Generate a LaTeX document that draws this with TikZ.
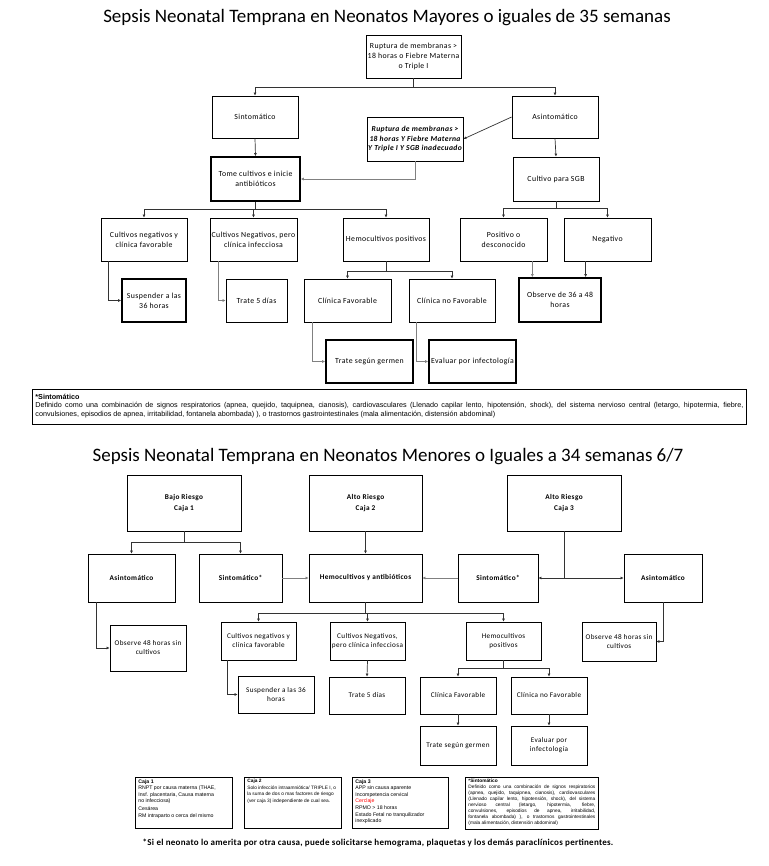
\documentclass[tikz,border=0pt]{standalone}
\usepackage{fontspec}
\setmainfont{Carlito}
\newfontfamily\boxf[LetterSpace=5]{Carlito}
\newfontfamily\fnf[LetterSpace=3]{Carlito}
\newfontfamily\arialf{Liberation Sans}
\usetikzlibrary{arrows.meta,calc}
\begin{document}
\begin{tikzpicture}[x=1pt,y=-1pt,
  box/.style={draw, line width=0.8pt, rectangle, inner sep=1pt, align=center, font=\boxf\fontsize{7.8}{9.7}\selectfont},
  thk/.style={line width=1.8pt},
  bbox/.style={box, font=\boxf\fontsize{7.2}{9}\selectfont},
  bboxb/.style={box, font=\boxf\bfseries\fontsize{7.3}{9}\selectfont},
  ln/.style={draw=black!80, line width=0.7pt, -{Latex[length=3pt,width=3pt]}},
  lng/.style={ln, draw=black!50},
  titlef/.style={inner sep=0pt, font=\fontsize{19}{23}\selectfont},
  notebox/.style={draw, line width=0.8pt, inner xsep=3pt, inner ysep=2pt, anchor=north west},
]
\fill[white] (0,0) rectangle (768,866);
\useasboundingbox (0,0) rectangle (768,866);

% ---------- Top section ----------
\node[titlef] (t1) at (387,18) {Sepsis Neonatal Temprana en Neonatos Mayores o iguales de 35 semanas};

\node[box, minimum width=95pt, minimum height=43pt] (top) at (413.5,56.5) {Ruptura de membranas >\\18 horas o Fiebre Materna\\o Triple I};
\node[box, minimum width=86pt, minimum height=42pt] (sint) at (255,117) {Sintomático};
\node[box, minimum width=86pt, minimum height=42pt] (asint) at (555,117) {Asintomático};
\node[box, minimum width=96pt, minimum height=44pt, font=\boxf\bfseries\itshape\fontsize{7.6}{9.5}\selectfont] (ital) at (415,139) {Ruptura de membranas >\\18 horas Y Fiebre Materna\\Y Triple I Y SGB inadecuado};
\node[box, thk, minimum width=89pt, minimum height=44pt] (tome) at (255.5,179) {Tome cultivos e inicie\\antibióticos};
\node[box, minimum width=86pt, minimum height=44pt] (sgb) at (556,179) {Cultivo para SGB};

\node[box, minimum width=86pt, minimum height=43pt] (cn1) at (144,239.5) {Cultivos negativos y\\clínica favorable};
\node[box, minimum width=87pt, minimum height=43pt] (cnp) at (253.5,239.5) {Cultivos Negativos, pero\\clínica infecciosa};
\node[box, minimum width=86pt, minimum height=43pt] (hemo) at (386,239.5) {Hemocultivos positivos};
\node[box, minimum width=87pt, minimum height=43pt] (pos) at (503.5,239.5) {Positivo o\\desconocido};
\node[box, minimum width=87pt, minimum height=43pt] (neg) at (607.5,239.5) {Negativo};

\node[box, thk, minimum width=64pt, minimum height=43pt] (susp) at (154,300.5) {Suspender a las\\36 horas};
\node[box, minimum width=61pt, minimum height=43pt] (t5) at (256.5,300.5) {Trate 5 días};
\node[box, minimum width=87pt, minimum height=43pt] (cf) at (347.5,300.5) {Clínica Favorable};
\node[box, minimum width=86pt, minimum height=43pt] (cnf) at (452,300.5) {Clínica no Favorable};
\node[box, thk, minimum width=82pt, minimum height=44pt] (obs) at (560,300) {Observe de 36 a 48\\horas};

\node[box, thk, minimum width=87pt, minimum height=43pt] (tsg) at (369.5,361.5) {Trate según germen};
\node[box, thk, minimum width=87pt, minimum height=43pt] (eval) at (472.5,361.5) {Evaluar por infectología};

\draw[ln] (top.south) -- ++(0,9) -| (sint.north);
\draw[ln] (top.south) -- ++(0,9) -| (asint.north);
\draw[ln] (asint.west) -- (ital.east);
\draw[ln] (sint.south) -- (tome.north);
\draw[lng] (ital.south) |- (tome.east);
\draw[ln] (asint.south) -- (sgb.north);
\draw[ln] (tome.south) -- ++(0,7) -| (cn1.north);
\draw[ln] (tome.south) -- ++(0,7) -| (cnp.north);
\draw[ln] (tome.south) -- ++(0,7) -| (hemo.north);
\draw[ln] (sgb.south) -- ++(0,7) -| (pos.north);
\draw[ln] (sgb.south) -- ++(0,7) -| (neg.north);
\coordinate (c1) at ($(cn1.south west)+(8,0)$);
\draw[ln] (c1) |- (susp.west);
\coordinate (c2) at ($(cnp.south west)+(9,0)$);
\draw[lng] (c2) |- (t5.west);
\draw[ln] (hemo.south) -- ++(0,10) -| (cf.north);
\draw[ln] (hemo.south) -- ++(0,10) -| (cnf.north);
\coordinate (c3) at ($(pos.south east)+(-15,0)$);
\draw[lng] (c3) -- (c3 |- obs.north);
\coordinate (c4) at ($(neg.south west)+(22,0)$);
\draw[ln] (c4) -- (c4 |- obs.north);
\coordinate (c5) at ($(cf.south west)+(9,0)$);
\draw[lng] (c5) |- (tsg.west);
\coordinate (c6) at ($(cnf.south west)+(8,0)$);
\draw[lng] (c6) |- (eval.west);

\node[notebox] (nb) at (32,389) {\parbox[c][31pt][t]{708pt}{\arialf\fontsize{7.2}{8.5}\selectfont
\vspace*{2.5pt}\textbf{*Sintomático}\\
Definido como una combinación de signos respiratorios (apnea, quejido, taquipnea, cianosis), cardiovasculares (Llenado capilar lento, hipotensión, shock), del sistema nervioso central (letargo, hipotermia, fiebre,\linebreak convulsiones, episodios de apnea, irritabilidad, fontanela abombada) ), o trastornos gastrointestinales (mala alimentación, distensión abdominal)}};

% ---------- Bottom section ----------
\node[titlef] (t2) at (388,457) {Sepsis Neonatal Temprana en Neonatos Menores o Iguales a 34 semanas 6/7};

\node[bboxb, minimum width=114pt, minimum height=56pt] (bajo) at (184,503) {Bajo Riesgo\\[2pt]Caja 1};
\node[bboxb, minimum width=113pt, minimum height=56pt] (alto2) at (365.5,503) {Alto Riesgo\\[2pt]Caja 2};
\node[bboxb, minimum width=114pt, minimum height=56pt] (alto3) at (564,503) {Alto Riesgo\\[2pt]Caja 3};

\node[bboxb, minimum width=87pt, minimum height=48pt] (asl) at (131.5,578) {Asintomático};
\node[bboxb, minimum width=83pt, minimum height=48pt] (sil) at (240.5,578) {Sintomático*};
\node[bboxb, minimum width=113pt, minimum height=48pt] (hya) at (365.5,578) {Hemocultivos y antibióticos};
\node[bboxb, minimum width=80pt, minimum height=48pt] (sir) at (498,578) {Sintomático*};
\node[bboxb, minimum width=78pt, minimum height=48pt] (asr) at (663,578) {Asintomático};

\node[bbox, minimum width=76pt, minimum height=46pt] (obsl) at (148,648) {Observe 48 horas sin\\cultivos};
\node[bbox, minimum width=75pt, minimum height=38pt] (cnb) at (258.5,641) {Cultivos negativos y\\clínica favorable};
\node[bbox, minimum width=75pt, minimum height=38pt] (cnpb) at (367.5,641) {Cultivos Negativos,\\pero clínica infecciosa};
\node[bbox, minimum width=75pt, minimum height=38pt] (hpb) at (503.5,641) {Hemocultivos\\positivos};
\node[bbox, minimum width=74pt, minimum height=39pt] (obsr) at (619,641.5) {Observe 48 horas sin\\cultivos};

\node[bbox, minimum width=76pt, minimum height=37pt] (susp2) at (276,694.5) {Suspender a las 36\\horas};
\node[bbox, minimum width=76pt, minimum height=37pt] (t52) at (367,695.5) {Trate 5 días};
\node[bbox, minimum width=76pt, minimum height=37pt] (cf2) at (458,695.5) {Clínica Favorable};
\node[bbox, minimum width=76pt, minimum height=37pt] (cnf2) at (549,695.5) {Clínica no Favorable};

\node[bbox, minimum width=76pt, minimum height=39pt] (tsg2) at (458,745.5) {Trate según germen};
\node[bbox, minimum width=76pt, minimum height=39pt] (ev2) at (549,745.5) {Evaluar por\\infectología};

\draw[ln] (bajo.south) -- ++(0,11) -| (asl.north);
\draw[ln] (bajo.south) -- ++(0,11) -| (sil.north);
\draw[ln] (alto2.south) -- (hya.north);
\draw[lng] (sil.east) -- (hya.west);
\draw[lng] (sir.west) -- (hya.east);
\draw[ln] (alto3.south) |- (sir.east);
\draw[ln] (alto3.south) |- (asr.west);
\draw[ln] (hya.south) -- ++(0,11) -| (cnb.north);
\draw[ln] (hya.south) -- ++(0,11) -| (cnpb.north);
\draw[ln] (hya.south) -- ++(0,11) -| (hpb.north);
\coordinate (d1) at ($(asl.south west)+(9,0)$);
\draw[ln] (d1) |- (obsl.west);
\draw[ln] (asr.south) |- (obsr.east);
\coordinate (d2) at ($(cnb.south west)+(7,0)$);
\draw[ln] (d2) |- (susp2.west);
\draw[ln] (cnpb.south) -- (t52.north);
\draw[ln] (hpb.south) -- ++(0,8) -| (cf2.north);
\draw[ln] (hpb.south) -- ++(0,8) -| (cnf2.north);
\draw[ln] (cf2.south) -- (tsg2.north);
\draw[ln] (cnf2.south) -- (ev2.north);

% notes
\node[notebox] (n1) at (135,777) {\parbox[c][47pt][t]{91pt}{\arialf\fontsize{5.2}{6.6}\selectfont
\textbf{Caja 1}\\RNPT por causa materna (THAE,\\Insf. placentaria, Causa materna\\no infecciosa)\\[0.8pt]Cesárea\\[0.8pt]RM intraparto o cerca del mismo}};
\node[notebox] (n2) at (244,777) {\parbox[c][47pt][t]{91pt}{\arialf\fontsize{4.8}{6.4}\selectfont
\textbf{Caja 2}\\\mbox{Solo infección intraamniótica/ TRIPLE I, o}\\la suma de dos o mas factores de riesgo\\(ver caja 3) independiente de cual sea.}};
\node[notebox] (n3) at (352,777) {\parbox[c][47pt][t]{90pt}{\arialf\fontsize{5.2}{6.6}\selectfont
\textbf{Caja 3}\\APP sin causa aparente\\Incompetencia cervical\\\textcolor{red}{Cerclaje}\\RPMO > 18 horas\\Estado Fetal no tranquilizador\\inexplicado}};
\node[notebox] (n4) at (465,777) {\parbox[c][48pt][t]{127pt}{\arialf\fontsize{4.8}{5.9}\selectfont
\textbf{*Sintomático}\\
Definido como una combinación de signos respiratorios\linebreak (apnea, quejido, taquipnea, cianosis), cardiovasculares\linebreak (Llenado capilar lento, hipotensión, shock), del sistema\linebreak nervioso central (letargo, hipotermia, fiebre,\linebreak convulsiones, episodios de apnea, irritabilidad,\linebreak fontanela abombada) ), o trastornos gastrointestinales\linebreak (mala alimentación, distensión abdominal)}};

\node[inner sep=0pt, font=\fnf\bfseries\fontsize{9}{11}\selectfont] (fn) at (378,843) {*Si el neonato lo amerita por otra causa, puede solicitarse hemograma, plaquetas y los demás paraclínicos pertinentes.};
\end{tikzpicture}
\end{document}
